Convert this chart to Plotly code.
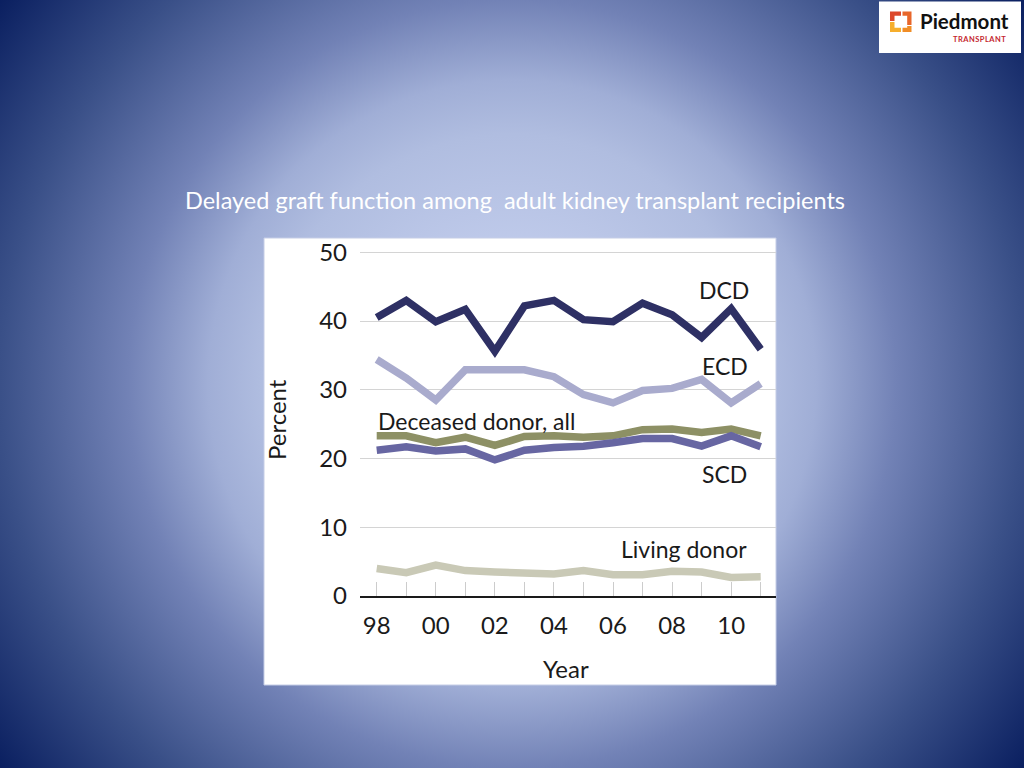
import plotly.graph_objects as go
import base64

W, H = 1024, 768

# ---------------- data ----------------
years = list(range(1998, 2012))
tick_text = ["98", "", "00", "", "02", "", "04", "", "06", "", "08", "", "10", ""]
dcd = [40.5, 43.0, 39.9, 41.7, 35.6, 42.2, 43.0, 40.2, 39.9, 42.6, 40.9, 37.6, 41.8, 35.9]
ecd = [34.4, 31.7, 28.5, 32.9, 32.9, 32.9, 31.9, 29.3, 28.1, 29.9, 30.2, 31.5, 28.1, 30.9]
deceased_all = [23.3, 23.3, 22.3, 23.1, 21.9, 23.2, 23.3, 23.1, 23.3, 24.2, 24.3, 23.8, 24.3, 23.3]
scd = [21.2, 21.7, 21.1, 21.4, 19.8, 21.2, 21.6, 21.8, 22.3, 22.9, 22.9, 21.8, 23.3, 21.7]
living = [4.0, 3.4, 4.5, 3.7, 3.5, 3.4, 3.2, 3.7, 3.1, 3.1, 3.6, 3.5, 2.7, 2.8]
y_ticks = [0, 10, 20, 30, 40, 50]

series = [
    ("DCD", dcd, "#2e3064"),
    ("ECD", ecd, "#a9abcd"),
    ("Deceased donor, all", deceased_all, "#8d9065"),
    ("SCD", scd, "#6766a2"),
    ("Living donor", living, "#c9c9b6"),
]

def px(x):
    return x / W

def py(y):
    return 1 - y / H

FONT = "Lato"

fig = go.Figure()
for name, vals, col in series:
    fig.add_trace(go.Scatter(x=years, y=vals, mode="lines", name=name,
                             line=dict(color=col, width=7.5), showlegend=False,
                             hoverinfo="skip"))

# background radial gradient as SVG
svg = f'''<svg xmlns="http://www.w3.org/2000/svg" width="{W}" height="{H}" viewBox="0 0 {W} {H}" preserveAspectRatio="none">
<defs><radialGradient id="g" gradientUnits="userSpaceOnUse" cx="512" cy="384" r="640">
<stop offset="0" stop-color="#c9d3f0"/>
<stop offset="0.2" stop-color="#c0cbeb"/>
<stop offset="0.39" stop-color="#b0bde0"/>
<stop offset="0.475" stop-color="#a0aed6"/>
<stop offset="0.6" stop-color="#7282b6"/>
<stop offset="0.8" stop-color="#3a5088"/>
<stop offset="1" stop-color="#0a1f60"/>
</radialGradient></defs>
<rect width="{W}" height="{H}" fill="url(#g)"/></svg>'''
src = "data:image/svg+xml;base64," + base64.b64encode(svg.encode()).decode()

x_left, x_right = 360, 776
yr_px = (760.7 - 376.7) / 13
x0 = 1998 - (376.7 - x_left) / yr_px
x1 = 2011 + (x_right - 760.7) / yr_px
y_zero, y_top = 596, 245
unit_px = (596 - 252.3) / 50
y_max = (y_zero - y_top) / unit_px

shapes = [
    dict(type="rect", xref="paper", yref="paper", x0=px(264), x1=px(776), y0=py(685), y1=py(238),
         fillcolor="white", line=dict(color="#c5cde6", width=1), layer="below"),
    # logo box
    dict(type="rect", xref="paper", yref="paper", x0=px(879), x1=px(1021), y0=py(53), y1=py(1.5),
         fillcolor="white", line=dict(width=0), layer="above"),
]

def lpath(points, color):
    d = "M " + " L ".join(f"{px(a):.5f},{py(b):.5f}" for a, b in points) + " Z"
    return dict(type="path", xref="paper", yref="paper", path=d, fillcolor=color,
                line=dict(width=0), layer="above")

# logo icon: four L-shaped pieces
shapes += [
    lpath([(890, 11.5), (901, 11.5), (901, 15.8), (894.5, 15.8), (894.5, 21), (890, 21)], "#dc472a"),
    lpath([(902.5, 11.5), (911.5, 11.5), (911.5, 25), (907.2, 25), (907.2, 15.8), (902.5, 15.8)], "#e8662a"),
    lpath([(890, 22), (894.5, 22), (894.5, 27.7), (901, 27.7), (901, 32), (890, 32)], "#f6ae2d"),
    lpath([(907.2, 26), (911.5, 26), (911.5, 32), (902.5, 32), (902.5, 27.7), (907.2, 27.7)], "#f08d26"),
]

ann = []

def label(text, x, y, size=23, color="#1a1a1a", xanchor="center", angle=0, family=FONT, bold=False):
    t = f"<b>{text}</b>" if bold else text
    ann.append(dict(text=t, x=px(x), y=py(y), xref="paper", yref="paper", showarrow=False,
                    xanchor=xanchor, yanchor="middle", textangle=angle,
                    font=dict(family=family, size=size, color=color)))

label("Delayed graft function among\u00a0 adult kidney transplant recipients", 514.5, 200,
      size=23.5, color="white", family="Lato")
label("DCD", 723.5, 290)
label("ECD", 724.5, 366)
label("Deceased donor, all", 376, 421, xanchor="left")
label("SCD", 724.5, 474)
label("Living donor", 684, 549)
label("Percent", 276, 420, angle=-90, size=24)
label("Year", 566, 668, size=24)
label("Piedmont", 918, 21, size=20.5, color="#111111", xanchor="left", bold=True)
ann.append(dict(text="<b>T R A N S P L A N T</b>".replace(" ", "\u200a"), x=px(1008), y=py(39.5),
                xref="paper", yref="paper", showarrow=False, xanchor="right", yanchor="middle",
                font=dict(family=FONT, size=7.5, color="#c4262e")))

fig.update_layout(
    template="none",
    width=W, height=H, margin=dict(l=0, r=0, t=0, b=0, pad=0, autoexpand=False),
    paper_bgcolor="#0a1f60", plot_bgcolor="rgba(0,0,0,0)",
    images=[dict(source=src, xref="paper", yref="paper", x=0, y=1, sizex=1, sizey=1,
                 xanchor="left", yanchor="top", sizing="stretch", layer="below")],
    shapes=shapes, annotations=ann,
    xaxis=dict(domain=[px(x_left), px(x_right)], range=[x0, x1], tickvals=years, ticktext=tick_text,
               ticks="inside", ticklen=14, tickcolor="#cccccc", tickwidth=1, automargin=False,
               showline=True, linecolor="#1a1a1a", linewidth=2, showgrid=False, zeroline=False,
               tickfont=dict(family=FONT, size=24, color="#1a1a1a"), ticklabelstandoff=7,
               fixedrange=True),
    yaxis=dict(domain=[py(y_zero), py(y_top)], range=[0, y_max], tickvals=y_ticks,
               ticks="", showline=False, zeroline=False, showgrid=True, gridcolor="#d4d4d4",
               gridwidth=1, tickfont=dict(family=FONT, size=24, color="#1a1a1a"), automargin=False,
               ticklabelstandoff=12, fixedrange=True),
)

fig.write_html("out.html")
